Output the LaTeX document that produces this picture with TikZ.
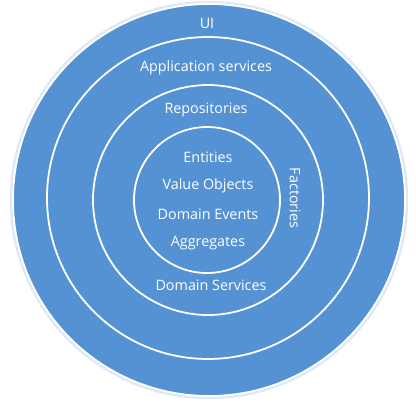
\documentclass[tikz,border=0pt]{standalone}
\usepackage{fontspec}
\setmainfont{Open Sans}
\usetikzlibrary{positioning}
\definecolor{ringblue}{RGB}{84,146,212}
\definecolor{glowblue}{RGB}{222,233,247}
\tikzstyle{ring} = [circle, draw=white, line width=1.8bp, fill=ringblue, inner sep=0pt]
\tikzstyle{layer} = [text=white, font=\fontsize{14.4}{16}\selectfont, inner sep=1pt]

\begin{document}
\begin{tikzpicture}[x=1bp, y=-1bp]
\useasboundingbox (0,0) rectangle (416,403);
% outer glow
\draw [glowblue, line width=2.5bp] (209,200) circle (198);
%
\node (ui) at (209,200) [ring, minimum size=392bp] {};
\node (app) at (208,198) [ring, minimum size=322bp] {};
\node (repo) at (208,200) [ring, minimum size=230bp] {};
\node (core) at (207,200) [ring, minimum size=146bp] {};
%
\node (uitext) at (207,23) [layer] {UI};
\node (apptext) at (206,68) [layer] {Application services};
\node (repotext) at (206,110) [layer] {Repositories};
\node (enttext) at (208,157) [layer] {Entities};
\node (valtext) at (208,186) [layer] {Value Objects};
\node (evtext) at (208,214) [layer] {Domain Events};
\node (aggtext) at (208,243) [layer] {Aggregates};
\node (servtext) at (211,285) [layer] {Domain Services};
\node (factext) at (295,198) [layer, rotate=-90] {Factories};

\end{tikzpicture}
\end{document}
